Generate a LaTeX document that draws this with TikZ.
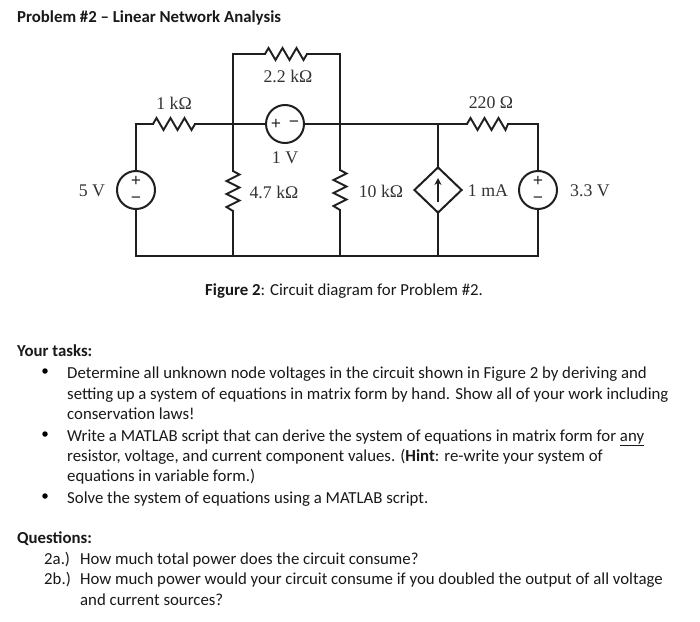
\documentclass[tikz,border=0pt]{standalone}
\usepackage{fontspec}
\setmainfont{Carlito}
\newfontfamily\mathlab{Liberation Serif}
\usetikzlibrary{arrows.meta,shapes.geometric}
\tikzset{
  wire/.style={line width=2pt,line join=miter,line cap=rect,draw=black!88},
  zig/.style={line width=1.9pt,line join=miter,line cap=round,draw=black!88},
  srcbox/.style={circle,draw=black!88,line width=2pt,fill=white,minimum size=38pt,inner sep=0pt},
  depbox/.style={diamond,draw=black!88,line width=2pt,fill=white,minimum width=48pt,minimum height=46pt,inner sep=0pt},
  lab/.style={font=\fontsize{17.8}{18}\selectfont\mathlab,text=black!80,inner sep=0pt},
  txt/.style={font=\fontsize{16.8}{17}\selectfont,anchor=base west,inner sep=0pt,text=black!90},
  dot/.style={circle,fill=black,minimum size=5.5pt,inner sep=0pt},
  signmark/.style={font=\fontsize{18}{18}\selectfont\bfseries\mathlab,inner sep=0pt,text=black!85}
}
\newcommand{\hres}[2]{\draw[zig] (#1) -- ++(3.5,-6) -- ++(7,12) -- ++(7,-12) -- ++(7,12) -- ++(7,-12) -- ++(7,12) -- (#2);}
\newcommand{\vres}[2]{\draw[zig] (#1) -- ++(6.5,3.5) -- ++(-13,6.5) -- ++(13,6.5) -- ++(-13,6.5) -- ++(13,6.5) -- ++(-13,6.5) -- (#2);}
\begin{document}
\begin{tikzpicture}[x=1pt,y=-1pt]
\useasboundingbox (0,0) rectangle (700,621);
\fill[white] (0,0) rectangle (700,621);
% coordinates
\coordinate (tl) at (136,124);
\coordinate (bl) at (136,256);
\coordinate (j1) at (233,124);
\coordinate (j1b) at (233,256);
\coordinate (j1t) at (233,54);
\coordinate (j2) at (340,124);
\coordinate (j2b) at (340,256);
\coordinate (j2t) at (340,54);
\coordinate (j3) at (438,124);
\coordinate (j3b) at (438,256);
\coordinate (tr) at (538,124);
\coordinate (br) at (538,256);
\coordinate (r1a) at (153,124); \coordinate (r1b) at (195,124);
\coordinate (r2a) at (265,54); \coordinate (r2b) at (307,54);
\coordinate (r3a) at (467,124); \coordinate (r3b) at (508,124);
\coordinate (r4a) at (233,171); \coordinate (r4b) at (233,211);
\coordinate (r5a) at (340,170); \coordinate (r5b) at (340,210);
% wires
\draw[wire] (136,190) -- (tl) -- (r1a);
\hres{r1a}{r1b}
\draw[wire] (r1b) -- (j1);
\draw[wire] (j1) -- (j2) -- (j3) -- (r3a);
\hres{r3a}{r3b}
\draw[wire] (r3b) -- (tr) -- (538,190);
\draw[wire] (j1) -- (j1t) -- (r2a);
\hres{r2a}{r2b}
\draw[wire] (r2b) -- (j2t) -- (j2);
\draw[wire] (j1) -- (r4a);
\vres{r4a}{r4b}
\draw[wire] (r4b) -- (j1b);
\draw[wire] (j2) -- (r5a);
\vres{r5a}{r5b}
\draw[wire] (r5b) -- (j2b);
\draw[wire] (j3) -- (j3b);
\draw[wire] (136,190) -- (bl) -- (j1b) -- (j2b) -- (j3b) -- (br) -- (538,190);
% sources
\node[srcbox] (v5) at (136,190) {};
\node[srcbox] (v1) at (285,124) {};
\node[srcbox] (v33) at (538,190) {};
\node[depbox] (dep) at (438,190) {};
\draw[line width=1.8pt,draw=black!88,-{Stealth[length=7pt,width=7pt]}] (438,202) -- (438,178);
% signs
\node[signmark] (p5) at (136,181) {+}; \node[signmark] (m5) at (136,200) {−};
\node[signmark] (p33) at (538,181) {+}; \node[signmark] (m33) at (538,200) {−};
\node[signmark] (p1) at (276,124) {+}; \node[signmark] (m1) at (294,124) {−};
% labels
\node[lab] (l1) at (174,103) {1 kΩ};
\node[lab] (l2) at (288,76) {2.2 kΩ};
\node[lab] (l3) at (491,103) {220 Ω};
\node[lab] (l4) at (285,158) {1 V};
\node[lab] (l5) at (92,191) {5 V};
\node[lab] (l6) at (274,192) {4.7 kΩ};
\node[lab] (l7) at (381,191) {10 kΩ};
\node[lab] (l8) at (488,191) {1 mA};
\node[lab] (l9) at (590,191) {3.3 V};
% text
\node[txt] (t0) at (17,22) {\textbf{Problem \#2 – Linear Network Analysis}};
\node[txt] (t1) at (205,295) {\textbf{Figure 2}: Circuit diagram for Problem \#2.};
\node[txt] (t2) at (17,356) {\textbf{Your tasks:}};
\node[dot] (b1) at (45,371) {};
\node[txt] (t3) at (67,378) {Determine all unknown node voltages in the circuit shown in Figure 2 by deriving and};
\node[txt] (t4) at (67,399) {setting up a system of equations in matrix form by hand. Show all of your work including};
\node[txt] (t5) at (67,419) {conservation laws!};
\node[dot] (b2) at (45,434) {};
\node[txt] (t6) at (67,441) {Write a MATLAB script that can derive the system of equations in matrix form for \underline{any}};
\node[txt] (t7) at (67,461) {resistor, voltage, and current component values. (\textbf{Hint}: re-write your system of};
\node[txt] (t8) at (67,481) {equations in variable form.)};
\node[dot] (b3) at (45,496) {};
\node[txt] (t9) at (67,503) {Solve the system of equations using a MATLAB script.};
\node[txt] (t10) at (17,543) {\textbf{Questions:}};
\node[txt] (t11) at (44,564) {\makebox[36pt][l]{2a.)}How much total power does the circuit consume?};
\node[txt] (t12) at (44,584) {\makebox[36pt][l]{2b.)}How much power would your circuit consume if you doubled the output of all voltage};
\node[txt] (t13) at (80,605) {and current sources?};
\end{tikzpicture}
\end{document}
